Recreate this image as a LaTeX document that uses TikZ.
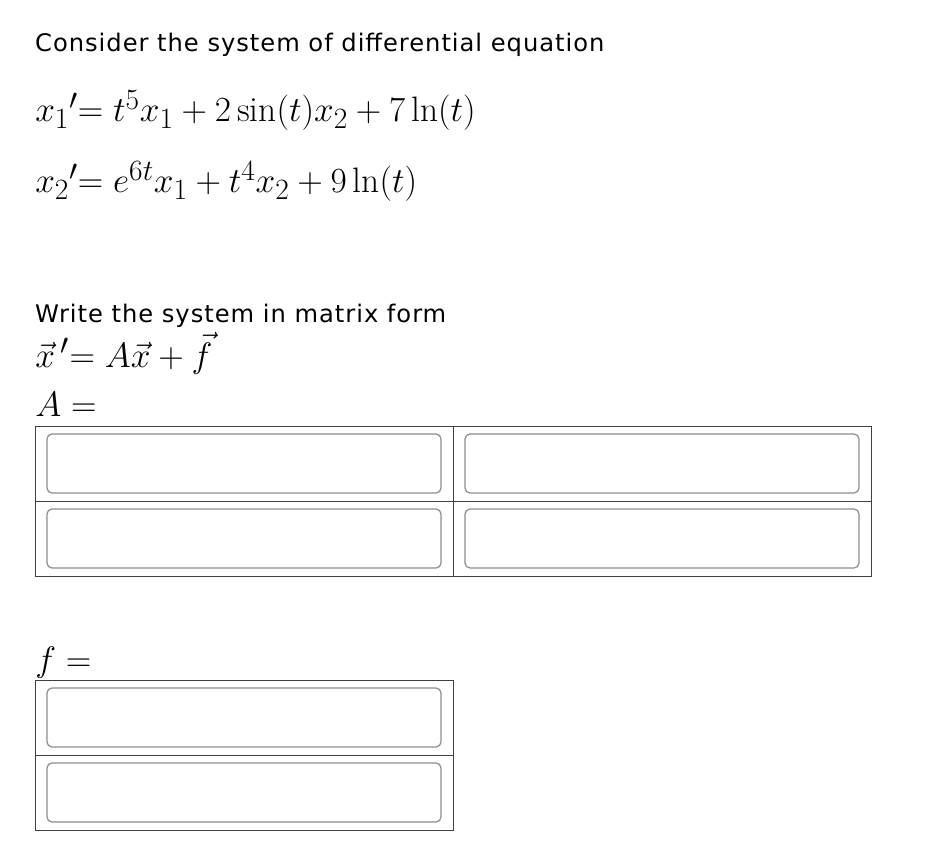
\documentclass[tikz,border=0pt]{standalone}
\usepackage{fontspec}
\usepackage{amsmath}
\newfontfamily\uifont[LetterSpace=4]{DejaVu Sans}
\begin{document}
\begin{tikzpicture}[x=1pt,y=-1pt,
  lbl/.style={anchor=base west,inner sep=0pt,font=\uifont\fontsize{24.2}{28}\selectfont},
  eq/.style={anchor=base west,inner sep=0pt,scale=1.42,font=\fontsize{24.88}{30}\selectfont},
  cell/.style={draw=black!75,line width=1pt},
  inbox/.style={draw=black!45,line width=1.2pt,rounded corners=5pt}]
\useasboundingbox (0,0) rectangle (930,864);
\node[lbl] (t1) at (35,52) {Consider the system of differential equation};
\node[eq] (e1) at (35,122) {$x_1{}'{=}\;t^5x_1+2\sin(t)x_2+7\ln(t)$};
\node[eq] (e2) at (35,193) {$x_2{}'{=}\;e^{6t}x_1+t^4x_2+9\ln(t)$};
\node[lbl] (t2) at (35,322) {Write the system in matrix form};
\node[eq] (e3) at (35,367) {$\vec{x}\,'{=}\;A\vec{x}+\vec{f}$};
\node[eq] (e4) at (35,416) {$A=$};
\node[eq] (e5) at (35,671) {$f=$};
% A table
\draw[cell] (35,426) rectangle (453,501);
\draw[cell] (453,426) rectangle (871,501);
\draw[cell] (35,501) rectangle (453,576);
\draw[cell] (453,501) rectangle (871,576);
\draw[inbox] (47,434) rectangle (441,493);
\draw[inbox] (465,434) rectangle (859,493);
\draw[inbox] (47,509) rectangle (441,568);
\draw[inbox] (465,509) rectangle (859,568);
% f table
\draw[cell] (35,680) rectangle (453,755);
\draw[cell] (35,755) rectangle (453,830);
\draw[inbox] (47,688) rectangle (441,747);
\draw[inbox] (47,763) rectangle (441,822);
\end{tikzpicture}
\end{document}
